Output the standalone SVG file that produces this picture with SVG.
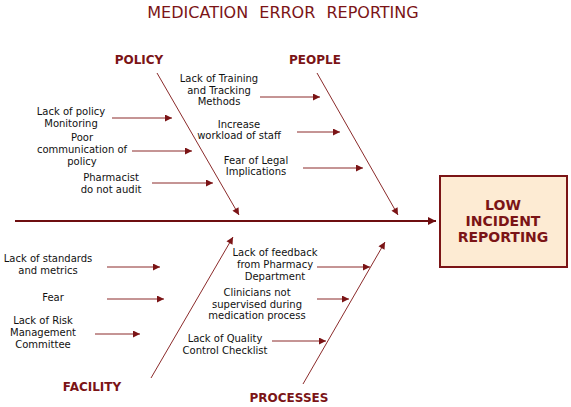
<svg xmlns="http://www.w3.org/2000/svg" width="571" height="407" viewBox="0 0 571 407">
<style>
.t{font-family:"DejaVu Sans",Verdana,sans-serif;font-size:10px;fill:#111;text-anchor:middle}
.h{font-family:"DejaVu Sans",Verdana,sans-serif;font-size:12px;font-weight:bold;fill:#7b1416;text-anchor:middle}
.title{font-family:"DejaVu Sans",Verdana,sans-serif;font-size:16px;fill:#7b1416;text-anchor:middle;word-spacing:6px}
.box{font-family:"DejaVu Sans",Verdana,sans-serif;font-size:14px;font-weight:bold;fill:#7b1416;text-anchor:middle}
.bone{stroke:#8b2b2b;stroke-width:1;fill:none}
.br{stroke:#8b2b2b;stroke-width:1;fill:none}
.spine{stroke:#6e0e10;stroke-width:2;fill:none}
</style>
<defs>
<marker id="ah" viewBox="0 0 10 10" refX="10" refY="5" markerWidth="9" markerHeight="7" markerUnits="userSpaceOnUse" orient="auto">
<path d="M0,0 L10,5 L0,10 z" fill="#7b1416"/>
</marker>
<marker id="ahs" viewBox="0 0 10 10" refX="10" refY="5" markerWidth="12" markerHeight="8" markerUnits="userSpaceOnUse" orient="auto">
<path d="M0,0 L10,5 L0,10 z" fill="#6e0e10"/>
</marker>
</defs>
<rect width="571" height="407" fill="#ffffff"/>
<text class="title" x="283" y="18">MEDICATION ERROR REPORTING</text>

<g id="connectors">
<line class="spine" x1="15" y1="221" x2="436" y2="221" marker-end="url(#ahs)"/>
<line class="bone" x1="157" y1="73" x2="239" y2="215" marker-end="url(#ah)"/>
<line class="bone" x1="317" y1="73" x2="398" y2="215" marker-end="url(#ah)"/>
<line class="bone" x1="151" y1="378" x2="233" y2="237" marker-end="url(#ah)"/>
<line class="bone" x1="303" y1="384" x2="385" y2="242" marker-end="url(#ah)"/>
<line class="br" x1="112" y1="118" x2="172" y2="118" marker-end="url(#ah)"/>
<line class="br" x1="132" y1="151" x2="192" y2="151" marker-end="url(#ah)"/>
<line class="br" x1="152" y1="183" x2="213" y2="183" marker-end="url(#ah)"/>
<line class="br" x1="260" y1="97" x2="320" y2="97" marker-end="url(#ah)"/>
<line class="br" x1="297" y1="132" x2="340" y2="132" marker-end="url(#ah)"/>
<line class="br" x1="303" y1="168" x2="363" y2="168" marker-end="url(#ah)"/>
<line class="br" x1="107" y1="267" x2="160" y2="267" marker-end="url(#ah)"/>
<line class="br" x1="107" y1="299" x2="164" y2="299" marker-end="url(#ah)"/>
<line class="br" x1="95" y1="334" x2="140" y2="334" marker-end="url(#ah)"/>
<line class="br" x1="317" y1="267" x2="370" y2="267" marker-end="url(#ah)"/>
<line class="br" x1="317" y1="299" x2="349" y2="299" marker-end="url(#ah)"/>
<line class="br" x1="272" y1="341" x2="326" y2="341" marker-end="url(#ah)"/>
</g>

<g id="policy"><text class="h" x="139" y="64">POLICY</text></g>
<g id="people"><text class="h" x="315" y="64">PEOPLE</text></g>
<g id="facility"><text class="h" x="92" y="391">FACILITY</text></g>
<g id="processes"><text class="h" x="289" y="402">PROCESSES</text></g>

<g id="effect">
<rect x="440" y="176" width="127" height="91" fill="#fdebd3" stroke="#7b1416" stroke-width="2"/>
<text class="box" x="503" y="210">LOW</text>
<text class="box" x="503" y="226">INCIDENT</text>
<text class="box" x="503" y="242">REPORTING</text>
</g>

<g id="c-policy-monitoring"><text class="t" x="71" y="115">Lack of policy</text><text class="t" x="71" y="127">Monitoring</text></g>
<g id="c-poor-communication"><text class="t" x="82" y="141">Poor</text><text class="t" x="82" y="153">communication of</text><text class="t" x="82" y="165">policy</text></g>
<g id="c-pharmacist"><text class="t" x="111" y="181">Pharmacist</text><text class="t" x="111" y="193">do not audit</text></g>
<g id="c-training"><text class="t" x="219" y="82">Lack of Training</text><text class="t" x="219" y="94">and Tracking</text><text class="t" x="219" y="105">Methods</text></g>
<g id="c-workload"><text class="t" x="239" y="128">Increase</text><text class="t" x="239" y="139">workload of staff</text></g>
<g id="c-legal"><text class="t" x="256" y="164">Fear of Legal</text><text class="t" x="256" y="175">Implications</text></g>
<g id="c-standards"><text class="t" x="48" y="262">Lack of standards</text><text class="t" x="48" y="274">and metrics</text></g>
<g id="c-fear"><text class="t" x="53" y="301">Fear</text></g>
<g id="c-risk"><text class="t" x="43" y="324">Lack of Risk</text><text class="t" x="43" y="336">Management</text><text class="t" x="43" y="348">Committee</text></g>
<g id="c-feedback"><text class="t" x="275" y="256">Lack of feedback</text><text class="t" x="275" y="268">from Pharmacy</text><text class="t" x="275" y="280">Department</text></g>
<g id="c-clinicians"><text class="t" x="257" y="296">Clinicians not</text><text class="t" x="257" y="308">supervised during</text><text class="t" x="257" y="319">medication process</text></g>
<g id="c-quality"><text class="t" x="225" y="342">Lack of Quality</text><text class="t" x="225" y="354">Control Checklist</text></g>
</svg>
